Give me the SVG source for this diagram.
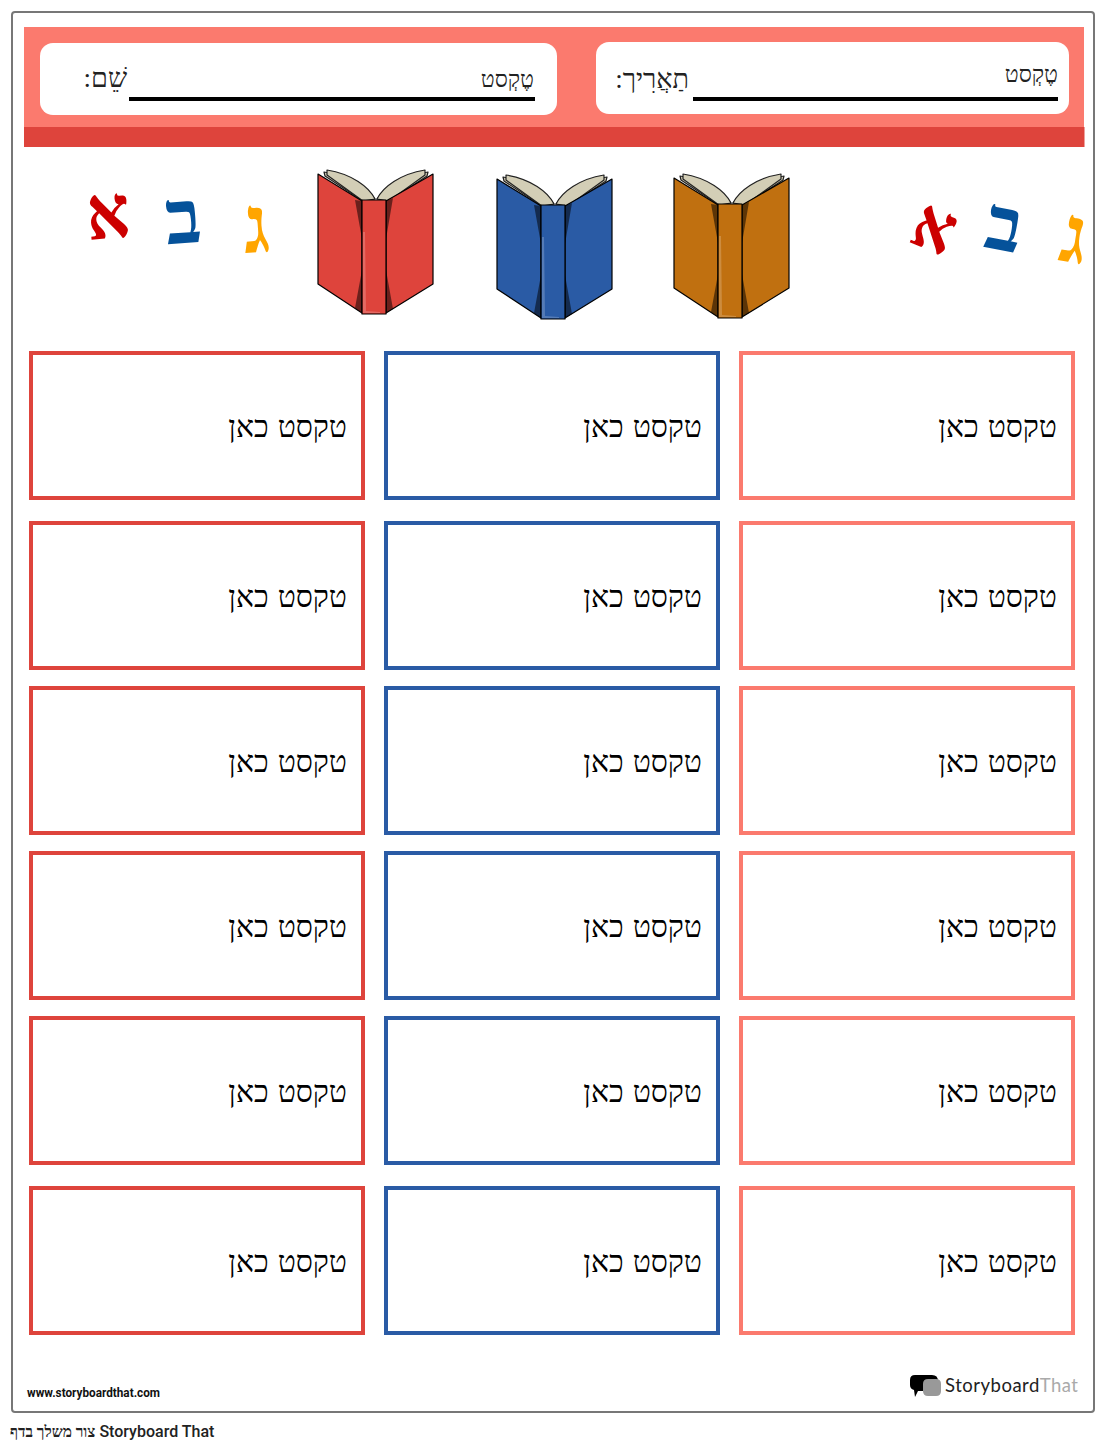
<svg xmlns="http://www.w3.org/2000/svg" xmlns:xlink="http://www.w3.org/1999/xlink" width="1107" height="1450" viewBox="0 0 1107 1450">
<style>
.card{fill:#fff;stroke-width:4}
.red{stroke:#de443c}.blue{stroke:#2a5ba5}.sal{stroke:#fb7a6e}
.t{font-family:"Liberation Serif","Noto Sans CJK SC",serif;font-size:30px;word-spacing:1.5px;fill:#000;direction:rtl;text-anchor:start}
.h{font-family:"Liberation Serif",serif;font-size:23px;fill:#222;direction:rtl;text-anchor:start}
.lab{font-size:27px}
.let{font-family:"Liberation Serif",serif;font-weight:700;font-size:75px;text-anchor:middle}
.gim{font-size:80px}
.ln{stroke:#000;stroke-width:4}
.o{stroke:#000;stroke-width:1.2;stroke-linejoin:round}
.pg{fill:#d3ceb6;stroke:#222;stroke-width:1.2;stroke-linejoin:round}
.sh{fill:#000;opacity:.52}
.hl{fill:#fff;opacity:.2}
</style>
<defs>
<g id="book">
<path class="pg" d="M325 176L324 172C348 176 368 188 375 199L363 201Z"/>
<path class="pg" d="M327 175L327 170C352 174 369 187 375 199L363 201Z"/>
<path class="pg" d="M427 176L428 172C404 176 384 188 377 199L389 201Z"/>
<path class="pg" d="M425 175L425 170C400 174 383 187 377 199L389 201Z"/>
<path class="o" d="M318 174L362 201V313L318 284Z"/>
<path class="o" d="M433 174L386 201V313L433 284Z"/>
<path class="sh" d="M355 200L362 201V239ZM362 270V313L355 308Z"/>
<path class="sh" d="M393 198L386 201V239ZM386 270V313L393 309Z"/>
<rect class="o" x="362" y="200" width="24" height="114"/>
<path class="hl" d="M363 232L365 232L366 311L380 312V313L363 313Z"/>
</g>
</defs>
<rect id="page" x="12" y="12" width="1082" height="1400" rx="3" fill="#fff" stroke="#777" stroke-width="2"/>
<g id="header">
<rect x="24" y="27" width="1060" height="101" fill="#fb7a6e"/>
<rect x="24" y="127" width="1060.500" height="20" fill="#de443c"/>
</g>
<g id="name-field">
<rect x="40" y="43" width="517" height="72" rx="13" fill="#fff"/>
<line class="ln" x1="129" y1="99" x2="535" y2="99"/>
<text class="h lab" x="127" y="87">שֵׁם:</text>
<text class="h" x="534" y="87">טֶקְסט</text>
</g>
<g id="date-field">
<rect x="596" y="42" width="473" height="72" rx="13" fill="#fff"/>
<line class="ln" x1="693" y1="99" x2="1058" y2="99"/>
<text class="h lab" x="689" y="88">תַאֲרִיך:</text>
<text class="h" x="1058" y="82">טֶקְסט</text>
</g>
<g id="letters-left">
<text class="let" fill="#cc0000" transform="translate(110 238) rotate(-5) scale(.9 1)">א</text>
<text class="let" fill="#05529a" transform="translate(185 243) rotate(-4)">ב</text>
<text class="let gim" fill="#ffa500" transform="translate(258 252) rotate(-4)">ג</text>
</g>
<g id="book-red"><use xlink:href="#book" href="#book" fill="#de443c"/></g>
<g id="book-blue"><use xlink:href="#book" href="#book" x="179" y="5" fill="#2a5ba5"/></g>
<g id="book-orange"><use xlink:href="#book" href="#book" x="356" y="4" fill="#c07010"/></g>
<g id="letters-right">
<text class="let" fill="#cc0000" transform="translate(926 249) rotate(22) scale(.85 .95)">א</text>
<text class="let" fill="#05529a" transform="translate(1000 250) rotate(11)">ב</text>
<text class="let gim" fill="#ffa500" transform="translate(1070 262) rotate(9)">ג</text>
</g>
<g id="card-1-1"><rect class="card red" x="31" y="353" width="332" height="145"/><text class="t" x="347" y="437">טקסט כאן</text></g>
<g id="card-1-2"><rect class="card blue" x="386" y="353" width="332" height="145"/><text class="t" x="702" y="437">טקסט כאן</text></g>
<g id="card-1-3"><rect class="card sal" x="741" y="353" width="332" height="145"/><text class="t" x="1057" y="437">טקסט כאן</text></g>
<g id="card-2-1"><rect class="card red" x="31" y="523" width="332" height="145"/><text class="t" x="347" y="607">טקסט כאן</text></g>
<g id="card-2-2"><rect class="card blue" x="386" y="523" width="332" height="145"/><text class="t" x="702" y="607">טקסט כאן</text></g>
<g id="card-2-3"><rect class="card sal" x="741" y="523" width="332" height="145"/><text class="t" x="1057" y="607">טקסט כאן</text></g>
<g id="card-3-1"><rect class="card red" x="31" y="688" width="332" height="145"/><text class="t" x="347" y="772">טקסט כאן</text></g>
<g id="card-3-2"><rect class="card blue" x="386" y="688" width="332" height="145"/><text class="t" x="702" y="772">טקסט כאן</text></g>
<g id="card-3-3"><rect class="card sal" x="741" y="688" width="332" height="145"/><text class="t" x="1057" y="772">טקסט כאן</text></g>
<g id="card-4-1"><rect class="card red" x="31" y="853" width="332" height="145"/><text class="t" x="347" y="937">טקסט כאן</text></g>
<g id="card-4-2"><rect class="card blue" x="386" y="853" width="332" height="145"/><text class="t" x="702" y="937">טקסט כאן</text></g>
<g id="card-4-3"><rect class="card sal" x="741" y="853" width="332" height="145"/><text class="t" x="1057" y="937">טקסט כאן</text></g>
<g id="card-5-1"><rect class="card red" x="31" y="1018" width="332" height="145"/><text class="t" x="347" y="1102">טקסט כאן</text></g>
<g id="card-5-2"><rect class="card blue" x="386" y="1018" width="332" height="145"/><text class="t" x="702" y="1102">טקסט כאן</text></g>
<g id="card-5-3"><rect class="card sal" x="741" y="1018" width="332" height="145"/><text class="t" x="1057" y="1102">טקסט כאן</text></g>
<g id="card-6-1"><rect class="card red" x="31" y="1188" width="332" height="145"/><text class="t" x="347" y="1272">טקסט כאן</text></g>
<g id="card-6-2"><rect class="card blue" x="386" y="1188" width="332" height="145"/><text class="t" x="702" y="1272">טקסט כאן</text></g>
<g id="card-6-3"><rect class="card sal" x="741" y="1188" width="332" height="145"/><text class="t" x="1057" y="1272">טקסט כאן</text></g>
<g id="footer">
<text x="27" y="1397" font-family="Roboto,sans-serif" font-weight="700" font-size="12.5" fill="#111" textLength="133" lengthAdjust="spacingAndGlyphs">www.storyboardthat.com</text>
<path d="M915 1375H932Q938 1375 938 1381V1386Q938 1391 932 1391H918L915 1397L914 1390Q910 1389 910 1385V1380Q910 1375 915 1375Z" fill="#000"/>
<path d="M928 1379H936Q941 1379 941 1384V1391Q941 1396 936 1396H928Q923 1396 923 1391V1384Q923 1379 928 1379Z" fill="#999"/>
<text x="945" y="1392" font-family="Lato,sans-serif" font-size="18.5" textLength="133"><tspan fill="#222">Storyboard</tspan><tspan fill="#aaa">That</tspan></text>
<text x="10" y="1437" font-family="Roboto,'Liberation Sans',sans-serif" font-weight="500" font-size="16" fill="#222"><tspan font-family="'Liberation Serif',serif" font-size="15.500" font-weight="700">צור משלך בדף</tspan> Storyboard That</text>
</g>
</svg>
